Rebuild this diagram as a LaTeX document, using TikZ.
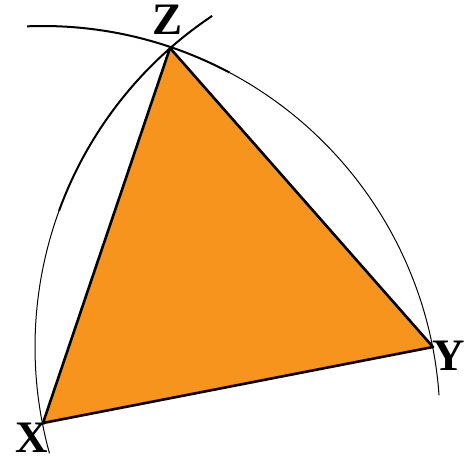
\documentclass[tikz,border=0pt]{standalone}
\usepackage{fontspec}
\setmainfont{Liberation Serif}
\definecolor{tri}{HTML}{F7941D}
\begin{document}
\begin{tikzpicture}[x=1pt,y=1pt,
  edge/.style={line width=2.6pt,line join=round},
  thickarc/.style={line width=2pt},
  thinarc/.style={line width=1pt},
  lbl/.style={font=\bfseries\fontsize{45}{45}\selectfont,inner sep=0pt}]
\useasboundingbox (0,0) rectangle (474,-463);
\coordinate (X) at (43,-423);
\coordinate (Y) at (433,-347);
\coordinate (Z) at (170,-48);
% arcs
\draw[thickarc] ([shift={(92.3:397)}]X) arc[start angle=92.3,end angle=62,radius=397];
\draw[thinarc] ([shift={(62:397)}]X) arc[start angle=62,end angle=4,radius=397];
\draw[thickarc] ([shift={(123.7:398)}]Y) arc[start angle=123.7,end angle=160,radius=398];
\draw[thinarc] ([shift={(160:398)}]Y) arc[start angle=160,end angle=195.5,radius=398];
% triangle
\filldraw[edge,fill=tri] (X) -- (Y) -- (Z) -- cycle;
% labels
\node[lbl] (lx) at (32,-438) {X};
\node[lbl] (ly) at (449,-356) {Y};
\node[lbl] (lz) at (168,-20) {Z};
\end{tikzpicture}
\end{document}
